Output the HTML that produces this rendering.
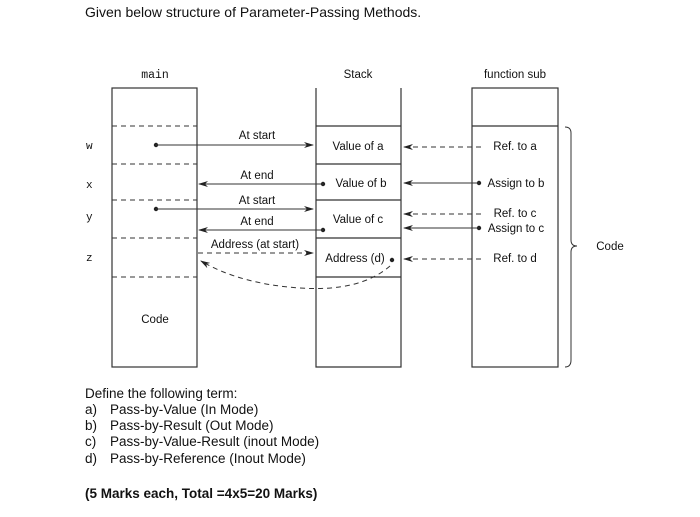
<!DOCTYPE html>
<html><head><meta charset="utf-8"><style>
html,body{margin:0;padding:0;background:#fff;}
svg{display:block;}
text{font-family:"Liberation Sans",sans-serif;fill:#111;}
.m{font-family:"Liberation Mono",monospace;}
</style></head><body>
<svg width="700" height="517" viewBox="0 0 700 517" xmlns="http://www.w3.org/2000/svg">
<defs>
<marker id="ah" markerWidth="10" markerHeight="6" refX="9" refY="3" orient="auto" markerUnits="userSpaceOnUse"><path d="M0,0 L10,3 L0,6 L3,3 Z" fill="#222"/></marker>
</defs>
<text x="85" y="17" font-size="14">Given below structure of Parameter-Passing Methods.</text>
<g font-size="11.5">
<text x="155" y="78" class="m" text-anchor="middle">main</text>
<text x="358" y="78" text-anchor="middle">Stack</text>
<text x="515" y="78" text-anchor="middle">function sub</text>
</g>
<g stroke="#333" stroke-width="1.2" fill="none">
<rect x="112" y="88" width="85" height="279"/>
<path d="M316,88 V367 H401 V88"/>
<rect x="472" y="88" width="86" height="279"/>
<line x1="472" y1="126" x2="558" y2="126"/>
<line x1="316" y1="126" x2="401" y2="126"/>
<line x1="316" y1="164" x2="401" y2="164"/>
<line x1="316" y1="200" x2="401" y2="200"/>
<line x1="316" y1="238" x2="401" y2="238"/>
<line x1="316" y1="277" x2="401" y2="277"/>
</g>
<g stroke="#333" stroke-width="1" stroke-dasharray="5,4">
<line x1="112" y1="126" x2="197" y2="126"/>
<line x1="112" y1="164" x2="197" y2="164"/>
<line x1="112" y1="200" x2="197" y2="200"/>
<line x1="112" y1="238" x2="197" y2="238"/>
<line x1="112" y1="277" x2="197" y2="277"/>
</g>
<g font-size="11" class="m">
<text x="86" y="149" class="m">w</text>
<text x="86" y="188" class="m">x</text>
<text x="86" y="220" class="m">y</text>
<text x="86" y="261" class="m">z</text>
</g>
<g font-size="11.5">
<text x="257" y="139" text-anchor="middle">At start</text>
<text x="257" y="179" text-anchor="middle">At end</text>
<text x="257" y="204" text-anchor="middle">At start</text>
<text x="257" y="225" text-anchor="middle">At end</text>
<text x="255" y="248" text-anchor="middle">Address (at start)</text>
<text x="358" y="150" text-anchor="middle">Value of a</text>
<text x="361" y="187" text-anchor="middle">Value of b</text>
<text x="358" y="223" text-anchor="middle">Value of c</text>
<text x="355" y="262" text-anchor="middle">Address (d)</text>
<text x="515" y="150" text-anchor="middle">Ref. to a</text>
<text x="516" y="187" text-anchor="middle">Assign to b</text>
<text x="515" y="217" text-anchor="middle">Ref. to c</text>
<text x="516" y="232" text-anchor="middle">Assign to c</text>
<text x="515" y="262" text-anchor="middle">Ref. to d</text>
<text x="610" y="250" text-anchor="middle">Code</text>
<text x="155" y="323" text-anchor="middle">Code</text>
</g>
<g fill="#222">
<circle cx="156" cy="145" r="2.2"/><circle cx="323" cy="184" r="2.2"/>
<circle cx="156" cy="209" r="2.2"/><circle cx="323" cy="230" r="2.2"/>
<circle cx="392" cy="260" r="2.2"/>
<circle cx="479" cy="183" r="2.2"/><circle cx="479" cy="228" r="2.2"/>
</g>
<g stroke="#333" stroke-width="1" fill="none" marker-end="url(#ah)">
<line x1="156" y1="145" x2="313" y2="145"/>
<line x1="323" y1="184" x2="199" y2="184"/>
<line x1="156" y1="209" x2="313" y2="209"/>
<line x1="323" y1="230" x2="199" y2="230"/>
<line x1="198" y1="253" x2="313" y2="253" stroke-dasharray="5,4"/>
<path d="M390,266 Q360,292 300,288 Q240,284 201,261" stroke-dasharray="5,4"/>
<line x1="481" y1="147" x2="404" y2="147" stroke-dasharray="5,4"/>
<line x1="479" y1="183" x2="404" y2="183"/>
<line x1="481" y1="214" x2="404" y2="214" stroke-dasharray="5,4"/>
<line x1="479" y1="228" x2="404" y2="228"/>
<line x1="481" y1="259" x2="404" y2="259" stroke-dasharray="5,4"/>
</g>
<path d="M565,127 Q571,127 571,133 V240 Q571,246 577,246 Q571,246 571,252 V360 Q571,367 565,367" stroke="#333" stroke-width="1" fill="none"/>
<g font-size="13.5">
<text x="85" y="398">Define the following term:</text>
<text x="85" y="414">a)</text><text x="110" y="414">Pass-by-Value (In Mode)</text>
<text x="85" y="430">b)</text><text x="110" y="430">Pass-by-Result (Out Mode)</text>
<text x="85" y="446">c)</text><text x="110" y="446">Pass-by-Value-Result (inout Mode)</text>
<text x="85" y="463">d)</text><text x="110" y="463">Pass-by-Reference (Inout Mode)</text>
<text x="85" y="498" font-weight="bold">(5 Marks each, Total =4x5=20 Marks)</text>
</g>
</svg>
</body></html>
